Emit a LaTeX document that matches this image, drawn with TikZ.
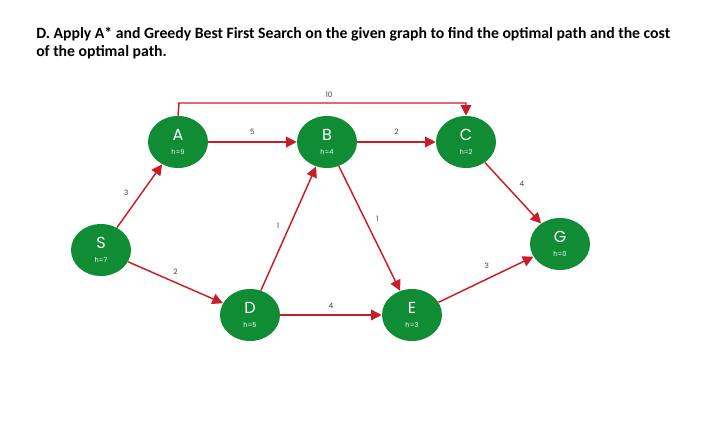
\documentclass[tikz,border=0pt]{standalone}
\usepackage{fontspec}
\setmainfont{Carlito}
\newfontfamily\pop{Poppins}
\usetikzlibrary{arrows.meta,shapes.geometric}
\definecolor{ngreen}{RGB}{16,140,52}
\definecolor{ered}{RGB}{200,30,40}
\tikzset{
 nd/.style={ellipse,fill=ngreen,minimum width=45pt,minimum height=39pt,inner sep=0pt,text=white,align=center,font=\pop},
 ed/.style={draw=ered,line width=1.1pt,-{Triangle[length=8pt,width=8pt]}},
 wl/.style={font=\pop\fontsize{5.5}{6}\selectfont,text=black!75}
}
\begin{document}
\begin{tikzpicture}[x=0.75pt,y=-0.75pt]
\useasboundingbox[fill=white] (0,0) rectangle (708,441);
\node[anchor=west,font=\bfseries\fontsize{11.8}{14}\selectfont,align=left,inner sep=0pt] (t) at (36,43) {D. Apply A* and Greedy Best First Search on the given graph to find the optimal path and the cost\\of the optimal path.};
\newcommand{\nlab}[2]{{\fontsize{12}{12}\selectfont #1}\\[-1pt]{\fontsize{5}{5}\selectfont h=#2}}
\node[nd] (A) at (178,142) {\nlab{A}{9}};
\node[nd] (B) at (327,142) {\nlab{B}{4}};
\node[nd] (C) at (466,142) {\nlab{C}{2}};
\node[nd] (S) at (101,250) {\nlab{S}{7}};
\node[nd] (G) at (560,244) {\nlab{G}{0}};
\node[nd] (D) at (250,315) {\nlab{D}{5}};
\node[nd] (E) at (412,315) {\nlab{E}{3}};
\coordinate (a1) at (179,103);
\coordinate (c1) at (466,103);
\draw[ed] (A.north) -- (a1) -- (c1) -- (C.north);
\node[wl] at (329,95) {10};
\draw[ed] (A) -- (B) node[wl,midway,above=2pt] {5};
\draw[ed] (B) -- (C) node[wl,midway,above=2pt] {2};
\draw[ed] (S) -- (A) node[wl,pos=0.4,above left=1pt] {3};
\draw[ed] (S) -- (D) node[wl,pos=0.5,above=2pt] {2};
\draw[ed] (D) -- (B) node[wl,pos=0.45,above left=1pt] {1};
\draw[ed] (B) -- (E) node[wl,pos=0.5,above right=1pt] {1};
\draw[ed] (D) -- (E) node[wl,midway,above=1pt] {4};
\draw[ed] (E) -- (G) node[wl,pos=0.6,above left=1pt] {3};
\draw[ed] (C) -- (G) node[wl,pos=0.5,above right=1pt] {4};
\end{tikzpicture}
\end{document}
